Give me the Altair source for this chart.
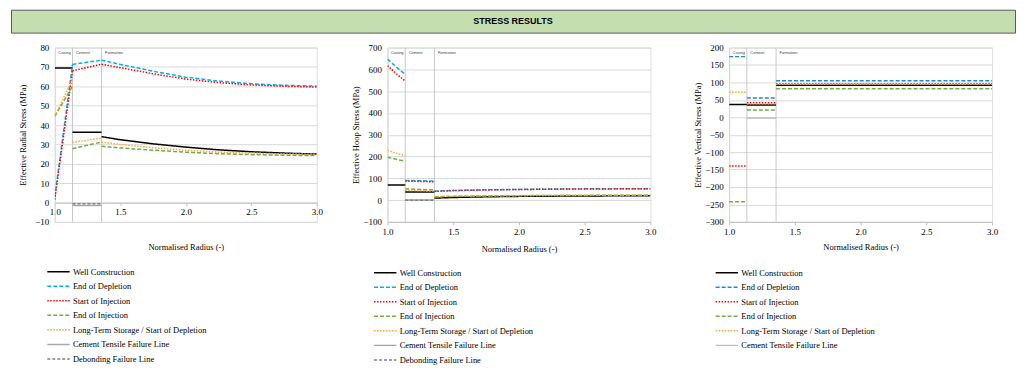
import altair as alt
import pandas as pd

TITLE = "STRESS RESULTS"
SERIES = ["Well Construction", "End of Depletion", "Start of Injection", "End of Injection",
          "Long-Term Storage / Start of Depletion", "Cement Tensile Failure Line",
          "Debonding Failure Line"]
SERIES3 = SERIES[:6]

REGION_LABEL = ["Casing", "Cement", "Formation"]
REGION_START = [1.0, 1.135, 1.357]
DIVIDERS = [1.135, 1.357]

X_CASING = [1.0, 1.135]
X_CASING_C = [1.0, 1.0675, 1.135]
X_CEMENT = [1.135, 1.357]
X_FORM = [1.357, 1.5, 1.75, 2.0, 2.25, 2.5, 2.75, 3.0]
X_FORM_FLAT = [1.357, 3.0]
X_TICKS = [1.0, 1.5, 2.0, 2.5, 3.0]

# Effective radial stress (MPa): (casing, cement, formation)
RAD_WC = ([69.5, 69.5], [36.3, 36.3], [34.0, 32.4, 30.3, 28.6, 27.2, 26.2, 25.5, 25.0])
RAD_ED = ([3.0, 71.3], [71.3, 73.5], [73.5, 71.3, 67.8, 64.7, 62.7, 61.3, 60.5, 60.1])
RAD_SI = ([1.5, 67.8], [68.0, 71.4], [71.4, 69.6, 66.5, 63.7, 61.9, 60.7, 60.0, 59.6])
RAD_EI = ([44.5, 60.0], [27.8, 31.2], [29.0, 28.2, 27.0, 26.0, 25.2, 24.7, 24.4, 24.2])
RAD_LT = ([44.5, 63.5], [31.0, 33.3], [31.2, 30.0, 28.3, 27.0, 26.0, 25.5, 25.1, 24.9])
RAD_CT = (None, [-1.5, -1.5], None)
RAD_DB = (None, [-0.6, -0.6], None)

# Effective hoop stress (MPa)
HOOP_WC = ([69.0, 69.0], [37.0, 37.0], [9.0, 12.0, 15.0, 17.0, 18.0, 19.0, 19.5, 20.0])
HOOP_ED = ([647.0, 610.0, 577.0], [90.0, 87.0], [41.0, 44.0, 47.0, 49.0, 50.5, 51.5, 52.0, 52.5])
HOOP_SI = ([617.0, 580.0, 546.0], [87.0, 84.0], [40.0, 43.5, 46.5, 48.5, 50.0, 51.0, 51.5, 52.0])
HOOP_EI = ([197.0, 187.0, 178.0], [52.0, 46.0], [15.0, 17.0, 19.0, 20.0, 21.0, 21.5, 22.0, 22.5])
HOOP_LT = ([228.0, 215.0, 204.0], [45.0, 41.0], [16.0, 18.0, 19.5, 20.5, 21.5, 22.0, 22.5, 23.0])
HOOP_CT = (None, [0.0, 0.0], None)
HOOP_DB = (None, [-1.0, -1.0], None)

# Effective vertical stress (MPa)
VERT_WC = ([37.0, 37.0], [35.0, 35.0], [92.0, 92.0])
VERT_ED = ([174.0, 174.0], [55.0, 55.0], [105.0, 105.0])
VERT_SI = ([-140.0, -140.0], [42.0, 42.0], [96.0, 96.0])
VERT_EI = ([-242.0, -242.0], [21.0, 21.0], [82.0, 82.0])
VERT_LT = ([72.0, 72.0], [39.0, 39.0], [94.5, 94.5])
VERT_CT = (None, [-2.0, -2.0], None)

COLORS_12 = ["#000000", "#00B0F0", "#FF0000", "#70AD47", "#FFA531", "#A6A6A6", "#808080"]
COLORS_3 = ["#000000", "#1E88E0", "#FF0000", "#70AD47", "#FFA531", "#BFBFBF"]
DASHES = [[1, 0], [4, 2], [1.5, 1.5], [4, 2], [1.5, 1.5], [1, 0], [3, 2]]

FONT = "Liberation Serif"


def frame(series, values):
    rows = []
    for name, segs in zip(series, values):
        for region, ys in zip(REGION_LABEL, segs):
            if ys is None:
                continue
            if region == "Casing":
                xs = X_CASING if len(ys) == 2 else X_CASING_C
            elif region == "Cement":
                xs = X_CEMENT
            else:
                xs = X_FORM if len(ys) == len(X_FORM) else X_FORM_FLAT
            for x, y in zip(xs, ys):
                rows.append({"series": name, "seg": name + "|" + region, "x": x, "y": y})
    return pd.DataFrame(rows)


def panel(df, series, colors, dashes, ydomain, yvalues, ytitle, extent,
          x_offset, x_title_pad, legend_x, legend_y, width):
    xaxis = alt.Axis(values=X_TICKS, format=".1f", grid=False, offset=x_offset,
                     labelFont=FONT, labelFontSize=9, labelColor="#000000",
                     labelPadding=2.5, tickSize=3, tickColor="#BFBFBF",
                     domainColor="#BFBFBF", labelFlush=False, labelOverlap=False,
                     titleFont=FONT, titleFontSize=8.5, titleFontWeight="normal",
                     titleColor="#000000", titlePadding=x_title_pad)
    X = alt.X("x:Q", title="Normalised Radius (-)",
              scale=alt.Scale(domain=[1.0, 3.0], nice=False, zero=False), axis=xaxis)
    yaxis = alt.Axis(values=yvalues, format="d", grid=True, gridColor="#D9D9D9",
                     ticks=False, tickSize=0, domain=True, domainColor="#D9D9D9",
                     labelFont=FONT, labelFontSize=9, labelColor="#000000", labelPadding=6,
                     titleFont=FONT, titleFontSize=8.5, titleFontWeight="normal",
                     titleColor="#000000", titleX=-32, titleY=87.5, titleAngle=270,
                     titleAlign="center", titleBaseline="middle",
                     minExtent=extent, maxExtent=extent)
    Y = alt.Y("y:Q", title=ytitle,
              scale=alt.Scale(domain=ydomain, nice=False, zero=False), axis=yaxis)
    legend = alt.Legend(orient="none", legendX=legend_x, legendY=legend_y, title=None,
                        direction="vertical", symbolType="stroke", symbolSize=506,
                        symbolStrokeWidth=1.5, labelFont=FONT, labelFontSize=8.5,
                        labelColor="#000000", labelOffset=2.5, rowPadding=0.6,
                        clipHeight=14, padding=0, labelLimit=0, symbolOffset=0)

    dividers = alt.Chart(pd.DataFrame({"x": DIVIDERS})).mark_rule(
        color="#C8C8C8", strokeWidth=1).encode(x=X)
    lines = alt.Chart(df).mark_line(strokeWidth=1.5, clip=True).encode(
        x=X, y=Y,
        color=alt.Color("series:N", scale=alt.Scale(domain=series, range=colors), legend=legend),
        strokeDash=alt.StrokeDash("series:N", scale=alt.Scale(domain=series, range=dashes),
                                  legend=legend),
        detail="seg:N",
    )
    labels = alt.Chart(pd.DataFrame({"x": REGION_START, "label": REGION_LABEL})).mark_text(
        align="left", baseline="top", dx=3.5, fontSize=4, font="Liberation Sans",
        color="#404040").encode(x=X, y=alt.value(3), text="label:N")
    return alt.layer(dividers, lines, labels).properties(width=width, height=175)


p1 = panel(frame(SERIES, [RAD_WC, RAD_ED, RAD_SI, RAD_EI, RAD_LT, RAD_CT, RAD_DB]),
           SERIES, COLORS_12, DASHES, [-10, 80], list(range(-10, 81, 10)),
           "Effective Radial Stress (MPa)", 39, -19.44, 25.5, -8.3, 218.0, 263)
p2 = panel(frame(SERIES, [HOOP_WC, HOOP_ED, HOOP_SI, HOOP_EI, HOOP_LT, HOOP_CT, HOOP_DB]),
           SERIES, COLORS_12, DASHES, [-100, 700], list(range(-100, 701, 100)),
           "Effective Hoop Stress (MPa)", 62.7, 0, 8, -14.3, 219.0, 264)
p3 = panel(frame(SERIES3, [VERT_WC, VERT_ED, VERT_SI, VERT_EI, VERT_LT, VERT_CT]),
           SERIES3, COLORS_3, DASHES[:6], [-300, 200], list(range(-300, 201, 50)),
           "Effective Vertical Stress (MPa)", 71.4, 0, 6, -14.3, 219.0, 264)

# 1px empty spacer so that the left axis of the first panel stays inside the row
spacer = alt.Chart(pd.DataFrame({"a": [0]})).mark_point(opacity=0).properties(
    width=1, height=175)

row = alt.hconcat(spacer, p1, p2, p3, spacing=0).resolve_scale(
    x="independent", y="independent", color="independent", strokeDash="independent"
).resolve_legend(color="independent", strokeDash="independent")

bar = alt.Chart(pd.DataFrame({"t": [TITLE]})).mark_text(
    font="Liberation Sans Narrow, Arial Narrow, Liberation Sans", fontWeight="bold",
    fontSize=9, color="#000000").encode(text="t:N").properties(
    width=1008, height=23,
    view=alt.ViewBackground(fill="#C5DEB0", stroke="#595959", strokeWidth=1))

chart = alt.vconcat(bar, row, spacing=9).properties(
    padding={"left": 0, "top": 0, "right": 0, "bottom": 0}
).configure_view(strokeWidth=0).configure(background="#FFFFFF")

chart.save("out.html", embed_options={"renderer": "svg", "actions": False})
